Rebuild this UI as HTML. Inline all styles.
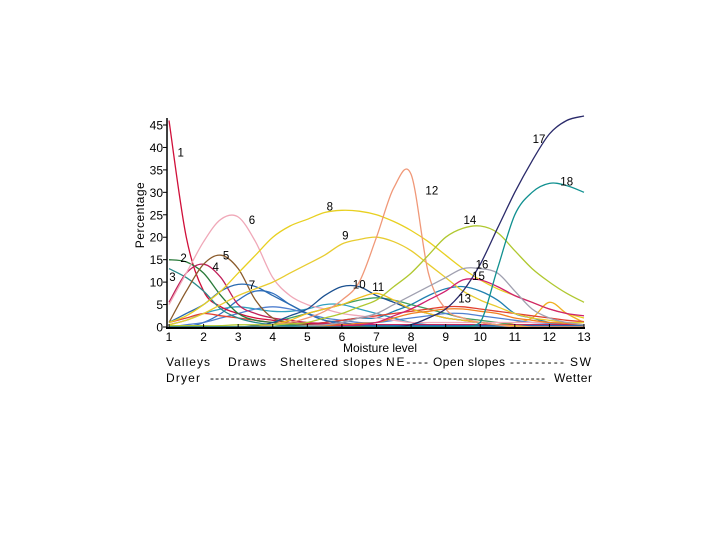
<!DOCTYPE html>
<html><head><meta charset="utf-8"><style>
html,body{margin:0;padding:0;background:#fff;width:720px;height:540px;overflow:hidden}
svg{display:block;font-family:"Liberation Sans",sans-serif}
</style></head><body>
<svg id="chart" width="720" height="540" viewBox="0 0 720 540"></svg>
<script>
const xGrid=[1,1.5,2,2.5,3,3.5,4,4.5,5,5.5,6,6.5,7,7.5,8,8.5,9,9.5,10,10.5,11,11.5,12,12.5,13];
const xTicks=[1,2,3,4,5,6,7,8,9,10,11,12,13];
const yTicks=[0,5,10,15,20,25,30,35,40,45];
const s1=[46,20,8,4.5,3,2,1.5,1,0.8,0.6,0.5,0.5,0.5,0.5,0.5,0.5,0.5,0.5,0.5,0.5,0.5,0.5,0.5,0.5,0.5];
const s2=[15,14.5,12,7,3,1.5,1,0.5,0.3,0.3,0.3,0.3,0.3,0.3,0.3,0.3,0.3,0.3,0.3,0.3,0.3,0.3,0.3,0.3,0.3];
const s3=[13,11,8,4,2,1,0.5,0.3,0.2,0.2,0.2,0.2,0.2,0.2,0.2,0.2,0.2,0.2,0.2,0.2,0.2,0.2,0.2,0.2,0.2];
const s4=[5.5,12,14,11,5,3,2,1.5,1,0.8,0.6,0.5,0.5,0.5,0.5,0.5,0.5,0.5,0.5,0.5,0.5,0.5,0.5,0.5,0.5];
const s5=[1,8,14,16,13,6,2,1,0.5,0.3,0.3,0.3,0.3,0.3,0.3,0.3,0.3,0.3,0.3,0.3,0.3,0.3,0.3,0.3,0.3];
const s6=[5,12,19,24,24.5,19,11,7,5,4,3,2.5,2,1.5,1,1,1,1,1,1,1,1,1,1,1];
const s7=[1,3,5,8,9.5,9,7,5,3,1.5,1,0.5,0.3,0.3,0.3,0.3,0.3,0.3,0.3,0.3,0.3,0.3,0.3,0.3,0.3];
const s8=[1,2.5,5,8,12,16,20,22.5,24,25.5,26,25.8,25,23.5,21.5,19,16,13,10.5,8.5,7,5.5,4,3,2];
const s9=[0.5,1.5,3,5,7,8.5,10,12,14,16,18.5,19.5,20,19,17,14,11,8,6,4.5,3,2,1.5,1,1];
const s10=[0,0,0,0,0,0.3,1,2.5,4,7,9,9,7,5.5,4,3,2,1.5,1,0.5,0.3,0,0,0,0];
const s11=[0,0,0,0,0,0,0.5,1.5,3,4,5,6.5,7.5,6,4,3,2,1.5,1,0.5,0.3,0,0,0,0];
const s12=[0,0,0,0,0,0,0.5,1,2,3.5,6,10,20,31,34,12,4,2,1,0.5,0,0,0,0,0];
const s13=[0,0,0,0,0,0,0,0,0,0.3,0.5,0.8,1,2,3,3.5,4,4,3.5,3,2,1.5,1,0.8,0.5];
const s14=[0.3,0.3,0.3,0.3,0.5,0.5,0.5,0.7,1,2,3,4.5,6,9,12,16,20,22,22.5,21,17,13,10,7.5,5.5];
const s15=[0,0,0,0,0,0,0,0,0,0,0.3,0.5,1,2.5,4,6,8,10.5,10.5,9,7,5.5,4,3,2.5];
const s16=[0,0,0,0,0,0,0,0,0.3,0.5,1,2,3,5,7,9,11,13,13,12,8,4,2,1,0.5];
const s17=[0,0,0,0,0,0,0,0,0,0,0,0,0,0,0.5,2,4,8,14,22,30,37,43,46,47];
const s18=[0,0,0,0,0,0,0,0,0,0,0,0,0,0,0,0,0,0,1,13,25,30,32,31.5,30];
const s19=[0,0,1,3,6,8,7.5,5,3,1.5,0.5,0.3,0.2,0.2,0.2,0.2,0.2,0.2,0.2,0.2,0.2,0.2,0.2,0.2,0.2];
const s20=[0,0,0,0,0,0,0,0,0.5,1,1.5,2,2,3.5,5,7,8.5,9,8,6,3,2,1,0.5,0.3];
const s21=[0,0,0,0,0,0,0,0,0,0,0,0,0,0,0,0,0,0,0.3,0.5,1,2,5.5,3,1];
const s22=[0,0,0,0,0,0,1,2,3,4,5,6,6.5,6,5,4,3,2,1.5,1,0.5,0.3,0.2,0.2,0.2];
const s23=[0.5,1.5,3,4,4.5,4,3.5,3.5,4,5,5,4,3,2,1,0.5,0.3,0.2,0.2,0.2,0.2,0.2,0.2,0.2,0.2];
const s24=[0,0.5,1,2,3,4,4.5,4,3,2,1.5,1,1,1.5,2,2.5,3,3,2.5,2,1.5,1,0.8,0.5,0.5];
const s25=[1,2,3,2.5,2,1.5,1,0.8,0.7,1,1.5,2,2.5,3,3.5,4,4.5,4.5,4,3.5,3,2.5,2,1.5,1.2];
const seriesList=[
 ['species-19',s19,'#3070c0'],['species-20',s20,'#2080b0'],['species-21',s21,'#f0b020'],['species-22',s22,'#40a060'],
 ['species-23',s23,'#30a0c0'],['species-24',s24,'#5080d0'],['species-25',s25,'#e04030'],
 ['species-1',s1,'#d0103a'],['species-2',s2,'#2a7a3a'],['species-3',s3,'#2a8a8a'],['species-4',s4,'#c0205a'],
 ['species-5',s5,'#8a5a2a'],['species-6',s6,'#f0a8b8'],['species-7',s7,'#2a6ab0'],['species-8',s8,'#e8d020'],
 ['species-9',s9,'#e8cc30'],['species-10',s10,'#1a5090'],['species-11',s11,'#f0c020'],['species-12',s12,'#f09878'],
 ['species-13',s13,'#f08020'],['species-14',s14,'#b0c830'],['species-15',s15,'#d02070'],['species-16',s16,'#a0a0b0'],
 ['species-17',s17,'#2a2a6a'],['species-18',s18,'#109090']];
const labelText=['1','2','3','4','5','6','7','8','9','10','11','12','13','14','15','16','17','18'];
const labelX=[1.34,1.42,1.1,2.35,2.65,3.4,3.4,5.65,6.1,6.5,7.05,8.6,9.55,9.7,9.95,10.05,11.7,12.5];
const labelY=[38,14.5,10.2,12.5,15,23,8.5,26,19.5,8.6,8,29.5,5.5,23,10.5,13,41,31.5];

const NS='http://www.w3.org/2000/svg';
const svg=document.getElementById('chart');
const X0=169,X1=584,Y0=327,YTOP=125;
function sx(v){return X0+(v-1)*(X1-X0)/12;}
function sy(v){return Y0-v*(Y0-YTOP)/45;}
function mk(t,a){const e=document.createElementNS(NS,t);for(const k in a)e.setAttribute(k,a[k]);svg.appendChild(e);return e;}

const gSeries=mk('g',{});


seriesList.forEach(s=>{
  const ys=s[1];const pts=xGrid.map((x,i)=>[sx(x),sy(ys[i])]);
  let d='M'+pts[0][0].toFixed(1)+','+pts[0][1].toFixed(1);
  for(let i=0;i<pts.length-1;i++){
    const p0=pts[Math.max(0,i-1)],p1=pts[i],p2=pts[i+1],p3=pts[Math.min(pts.length-1,i+2)];
    const c1x=p1[0]+(p2[0]-p0[0])/6,c1y=Math.min(Y0,p1[1]+(p2[1]-p0[1])/6);
    const c2x=p2[0]-(p3[0]-p1[0])/6,c2y=Math.min(Y0,p2[1]-(p3[1]-p1[1])/6);
    d+='C'+c1x.toFixed(1)+','+c1y.toFixed(1)+' '+c2x.toFixed(1)+','+c2y.toFixed(1)+' '+p2[0].toFixed(1)+','+p2[1].toFixed(1);
  }
  const p=document.createElementNS(NS,'path');
  p.setAttribute('d',d);p.setAttribute('fill','none');p.setAttribute('stroke',s[2]);p.setAttribute('stroke-width','1.3');
  
  
  gSeries.appendChild(p);
});

const ya=mk('line',{x1:167,y1:118,x2:167,y2:Y0+1,stroke:'#000','stroke-width':1.5});


const xa=mk('line',{x1:166,y1:Y0+1,x2:585,y2:Y0+1,stroke:'#000','stroke-width':2});


yTicks.forEach(v=>{
  const l=mk('line',{x1:163,y1:sy(v),x2:167,y2:sy(v),stroke:'#000','stroke-width':1});
  
  
  const t=mk('text',{x:163,y:sy(v)+4.5,'font-size':12,'text-anchor':'end',fill:'#000'});
  t.textContent=v;
  
  
});
xTicks.forEach(v=>{
  const l=mk('line',{x1:sx(v),y1:Y0-3,x2:sx(v),y2:Y0+1,stroke:'#000','stroke-width':1});
  
  
  const t=mk('text',{x:sx(v),y:341,'font-size':12,'text-anchor':'middle',fill:'#000'});
  t.textContent=v;
  
  
});
labelText.forEach((s,i)=>{
  const t=mk('text',{x:sx(labelX[i]),y:sy(labelY[i]),'font-size':11.5,'text-anchor':'middle',fill:'#000'});
  t.textContent=s;
  
  
});
function txt(x,y,s,name,w){const a={x:x,y:y,'font-size':12,fill:'#000'};if(w){a.textLength=w;a.lengthAdjust='spacing';}
  const t=mk('text',a);t.textContent=s;
  
  return t;}
txt(380,352,'Moisture level','x-axis-title').setAttribute('text-anchor','middle');
const yt=txt(144,215,'Percentage','y-axis-title');
yt.setAttribute('text-anchor','middle');yt.setAttribute('transform','rotate(-90 144 215)');yt.setAttribute('letter-spacing','0.5');
txt(166,366,'Valleys','habitat-valleys',44);
txt(228,366,'Draws','habitat-draws',38);
txt(280,366,'Sheltered slopes','habitat-sheltered-slopes',102);
txt(386,366,'NE----','habitat-ne',42);
txt(433,366,'Open slopes','habitat-open-slopes',72);
txt(510,366,'---------','habitat-dashes',54);
txt(570,366,'SW','habitat-sw',21);
txt(166,382,'Dryer','moisture-dryer',34);
txt(210,382,'-----------------------------------------------------------------','moisture-dashes',335);
txt(554,382,'Wetter','moisture-wetter',38);
</script>
</body></html>
